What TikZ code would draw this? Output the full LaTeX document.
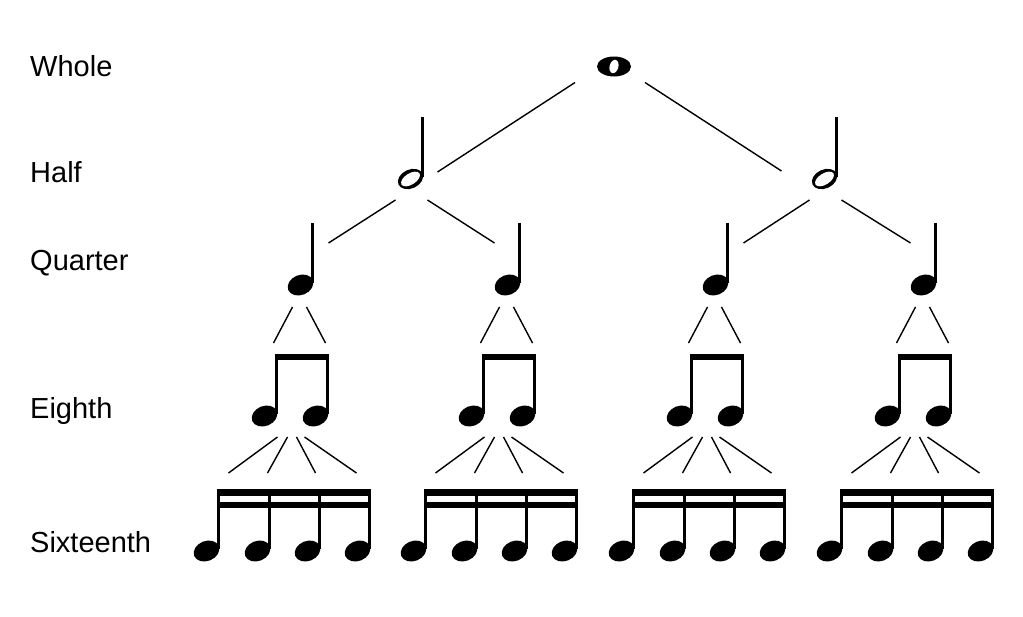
\documentclass[tikz,border=0pt]{standalone}
\usepackage{fontspec}
\setmainfont{Liberation Sans}
\usetikzlibrary{calc}

\tikzset{
    lbl/.style={anchor=base west, inner sep=0pt, font=\fontsize{29}{31}\selectfont},
    link/.style={line width=1.4pt},
}

% filled note head and stem at a named point
\newcommand{\nhead}[1]{\fill[rotate around={22:(#1)}] (#1) ellipse [x radius=13.2pt, y radius=10pt];}
\newcommand{\nstem}[1]{\fill ($(#1)+(10.3,-2)$) rectangle ($(#1)+(13.3,-62)$);}

\begin{document}
\begin{tikzpicture}[x=1pt, y=-1pt]
    \useasboundingbox (0,0) rectangle (1023,616);

    \node[lbl] (whole) at (30,76) {Whole};
    \node[lbl] (half) at (30,182.5) {Half};
    \node[lbl] (quarter) at (30,270) {Quarter};
    \node[lbl] (eighth) at (30,418.5) {Eighth};
    \node[lbl] (sixteenth) at (30,552) {Sixteenth};

    \coordinate (w) at (614,66.5);
    \coordinate (h1) at (410.5,179);
    \coordinate (h2) at (824.5,179);
    \foreach \i/\x in {1/300.5, 2/507.5, 3/715.5, 4/923.5} {
        \coordinate (q\i) at (\x,285);
        \coordinate (e\i a) at (\x-36,416);
        \coordinate (e\i b) at (\x+15,416);
        \coordinate (s\i a) at (\x-94,551);
        \coordinate (s\i b) at (\x-43,551);
        \coordinate (s\i c) at (\x+7,551);
        \coordinate (s\i d) at (\x+57,551);
    }

    % whole
    \fill (w) ellipse [x radius=17pt, y radius=10pt];
    \fill[white, rotate around={-15:(w)}] (w) ellipse [x radius=4.4pt, y radius=6.8pt];

    % halves
    \foreach \n in {h1, h2} {
        \fill[rotate around={25:(\n)}] (\n) ellipse [x radius=13.2pt, y radius=9.4pt];
        \fill[white, rotate around={32:(\n)}] (\n) ellipse [x radius=10.6pt, y radius=5.6pt];
        \nstem{\n}
    }

    % quarters, eighths, sixteenths
    \foreach \i in {1,...,4} {
        \nhead{q\i} \nstem{q\i}
        \foreach \k in {a, b} {\nhead{e\i\k} \nstem{e\i\k}}
        \fill ($(e\i a)+(10.3,-62)$) rectangle ($(e\i b)+(13.3,-56.5)$);
        \foreach \k in {a, b, c, d} {\nhead{s\i\k} \nstem{s\i\k}}
        \fill ($(s\i a)+(10.3,-62)$) rectangle ($(s\i d)+(13.3,-55)$);
        \fill ($(s\i a)+(10.3,-49)$) rectangle ($(s\i d)+(13.3,-43)$);
    }

    % connectors
    \path[link] ($(w)+(-39,16)$) edge ($(h1)+(27,-7)$);
    \path[link] ($(w)+(31,16)$) edge ($(h2)+(-43,-8)$);
    \foreach \h/\l/\r in {h1/q1/q2, h2/q3/q4} {
        \path[link] ($(\h)+(-15,21)$) edge ($(\l)+(28,-42)$);
        \path[link] ($(\h)+(17,21)$) edge ($(\r)+(-13,-42)$);
    }
    \foreach \i in {1,...,4} {
        \path[link] ($(q\i)+(-8,22)$) edge ($(e\i a)+(9,-73)$);
        \path[link] ($(q\i)+(6,22)$) edge ($(e\i b)+(10,-73)$);
        \path[link] ($(e\i a)+(13,21)$) edge ($(s\i a)+(22,-78)$);
        \path[link] ($(e\i a)+(23,21)$) edge ($(s\i b)+(10,-78)$);
        \path[link] ($(e\i b)+(-19,21)$) edge ($(s\i c)+(8,-78)$);
        \path[link] ($(e\i b)+(-11,21)$) edge ($(s\i d)+(-1,-78)$);
    }
\end{tikzpicture}
\end{document}
